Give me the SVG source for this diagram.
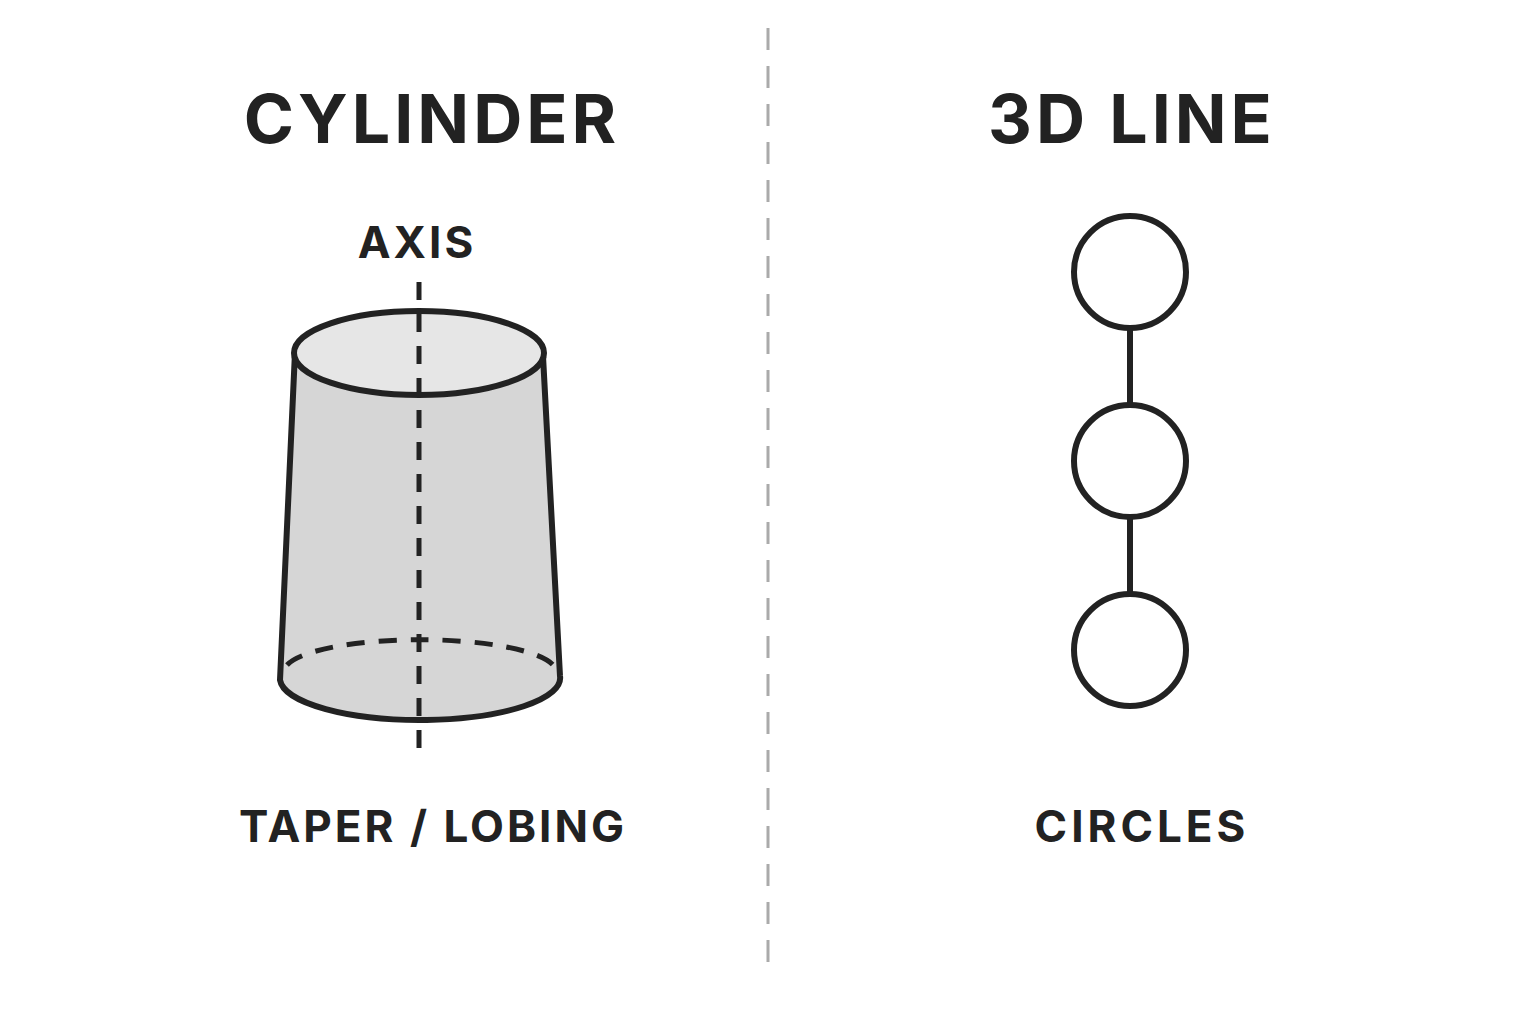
<svg xmlns="http://www.w3.org/2000/svg" width="1536" height="1024" viewBox="0 0 1536 1024">
<style>
.t{font-family:Inter,"Liberation Sans",sans-serif;font-weight:700;fill:#222;text-anchor:middle}
.s{stroke:#222;stroke-width:6;fill:none}
.d{stroke:#222;stroke-width:5;fill:none;stroke-dasharray:18 14}
</style>
<rect width="1536" height="1024" fill="#fff"/>
<line x1="768" y1="28" x2="768" y2="965" stroke="#aaa" stroke-width="3" stroke-dasharray="22 16"/>
<text class="t" x="432" y="143" font-size="68" letter-spacing="4">CYLINDER</text>
<text class="t" x="1132" y="143" font-size="68" letter-spacing="4">3D LINE</text>
<text class="t" x="417" y="258" font-size="44" letter-spacing="3">AXIS</text>
<text class="t" x="433" y="842" font-size="44" letter-spacing="3">TAPER / LOBING</text>
<text class="t" x="1142" y="842" font-size="44" letter-spacing="4">CIRCLES</text>
<g id="cylinder">
<path d="M295 352 L280 680 A140 42 0 0 0 560 676 L543 356 Z" fill="#d6d6d6" stroke="#222" stroke-width="6" stroke-linejoin="round"/>
<ellipse cx="419" cy="353" rx="125" ry="42" fill="#e6e6e6" stroke="#222" stroke-width="6"/>
<path class="d" d="M287 665 A136 32 0 0 1 553 665"/>
<line class="d" x1="419" y1="282" x2="419" y2="760"/>
</g>
<g id="line3d">
<line class="s" x1="1130" y1="328" x2="1130" y2="406"/>
<line class="s" x1="1130" y1="518" x2="1130" y2="596"/>
<circle class="s" cx="1130" cy="272" r="56"/>
<circle class="s" cx="1130" cy="461" r="56"/>
<circle class="s" cx="1130" cy="650" r="56"/>
</g>
</svg>
